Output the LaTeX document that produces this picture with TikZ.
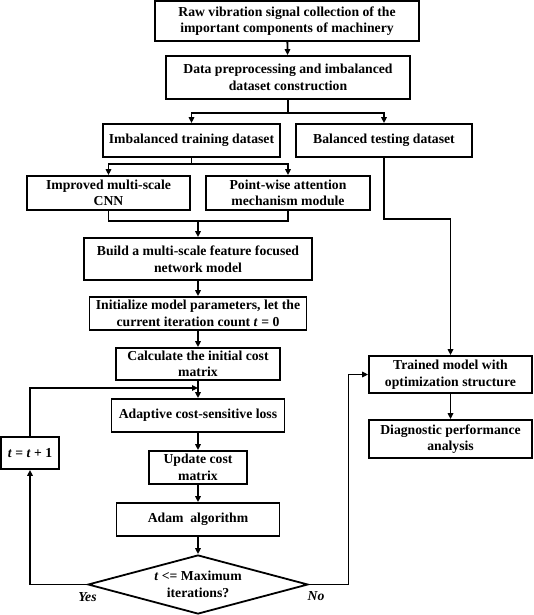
\documentclass[tikz,border=0pt]{standalone}
\usepackage{fontspec}
\setmainfont{Liberation Serif}
\usetikzlibrary{arrows.meta,shapes.geometric}
\begin{document}
\begin{tikzpicture}[x=1pt,y=-1pt,
  font=\fontsize{13.7}{16.5}\selectfont\bfseries,
  box/.style={draw,line width=1.8pt,inner sep=0pt,align=center},
  dec/.style={draw,line width=1.8pt,diamond,aspect=3.73,inner sep=0pt,align=center,minimum width=220pt,minimum height=59pt},
  ln/.style={line width=1.8pt},
  arr/.style={line width=1.8pt,-{Triangle[length=6pt,width=5.5pt]}},
  lab/.style={font=\fontsize{13.7}{16.5}\selectfont\bfseries\itshape}]
\useasboundingbox (0,0) rectangle (533,615);
\node[box,minimum width=264pt,minimum height=40pt] (b1) at (287,21) {Raw vibration signal collection of the\\important components of machinery};
\node[box,minimum width=244pt,minimum height=43pt] (b2) at (288,77.5) {Data preprocessing and imbalanced\\dataset construction};
\node[box,minimum width=177pt,minimum height=33pt] (b3) at (191.5,140.5) {Imbalanced training dataset};
\node[box,minimum width=176pt,minimum height=33pt] (b4) at (384,140.5) {Balanced testing dataset};
\node[box,minimum width=163pt,minimum height=34pt] (b5) at (108.5,193) {Improved multi-scale\\CNN};
\node[box,minimum width=164pt,minimum height=34pt] (b6) at (288,193) {Point-wise attention\\mechanism module};
\node[box,minimum width=228pt,minimum height=42pt] (b7) at (198,259) {Build a multi-scale feature focused\\network model};
\node[box,minimum width=217pt,minimum height=33pt] (b8) at (198,313.5) {Initialize model parameters, let the\\current iteration count \textit{t} = 0};
\node[box,minimum width=164pt,minimum height=32pt] (b9) at (198,364) {Calculate the initial cost\\matrix};
\node[box,minimum width=173pt,minimum height=33pt] (b10) at (198,415.5) {Adaptive cost-sensitive loss};
\node[box,minimum width=98pt,minimum height=33pt] (b11) at (198,467.5) {Update cost\\matrix};
\node[box,minimum width=163pt,minimum height=33pt] (b12) at (198,519.5) {Adam\ \ algorithm};
\node[dec] (d) at (198,584.5) {\textit{t} <= Maximum\\iterations?};
\node[box,minimum width=58pt,minimum height=32pt] (t) at (30,453) {\textit{t} = \textit{t} + 1};
\node[box,minimum width=163pt,minimum height=37pt] (tr) at (450.5,374.5) {Trained model with\\optimization structure};
\node[box,minimum width=163pt,minimum height=38pt] (dg) at (450.5,439) {Diagnostic performance\\analysis};
\node[lab] (yes) at (87.5,597) {Yes};
\node[lab] (no) at (316,596) {No};
\coordinate (m) at (198,221);
\coordinate (j) at (198,388);
\draw[arr] (b1) -- (b2);
\draw[arr] (b2.south) -- ++(0,13) -| (b3.north);
\draw[arr] (b2.south) -- ++(0,13) -| (b4.north);
\draw[arr] (b3.south) -- ++(0,6) -| (b5.north);
\draw[arr] (b3.south) -- ++(0,6) -| (b6.north);
\draw[ln] (b5.south) |- (m) -| (b6.south);
\draw[arr] (m) -- (b7.north);
\draw[arr] (b7) -- (b8);
\draw[arr] (b8) -- (b9);
\draw[arr] (b9) -- (b10);
\draw[arr] (b10) -- (b11);
\draw[arr] (b11) -- (b12);
\draw[arr] (b12) -- (d);
\draw[arr] (d.west) -| (t.south);
\draw[arr] (t.north) |- (j);
\draw[arr] (d.east) -- ++(39.5,0) |- (tr.west);
\draw[arr] (b4.south) -- ++(0,61) -| (tr.north);
\draw[arr] (tr) -- (dg);
\end{tikzpicture}
\end{document}
